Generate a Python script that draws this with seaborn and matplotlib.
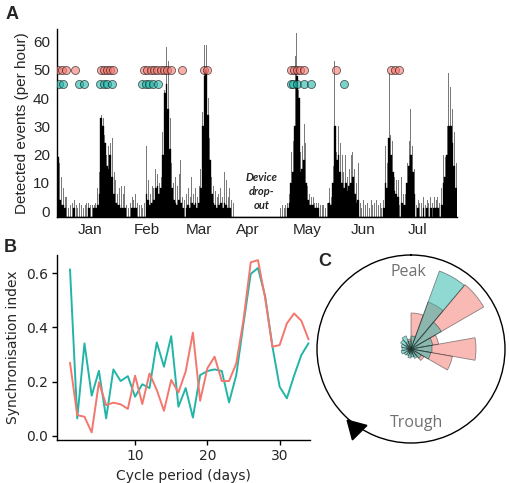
import numpy as np
import matplotlib
matplotlib.use("Agg")
import matplotlib.pyplot as plt
import seaborn as sns

# ---------------- Panel A data (daily envelope of hourly counts) ----------------
events_max = [19, 17, 12, 8, 5, 5, 1, 2, 3, 4,
              2, 1, 3, 2, 1, 2, 3, 3, 2, 2,
              2, 3, 8, 14, 34, 33, 27, 20, 23, 24,
              26, 14, 11, 6, 8, 9, 6, 9, 2, 1,
              3, 5, 4, 6, 3, 2, 2, 1, 3, 23,
              11, 6, 9, 8, 15, 13, 10, 12, 28, 43,
              58, 53, 33, 17, 10, 12, 9, 13, 18, 5,
              4, 6, 8, 5, 12, 6, 8, 5, 9, 15,
              35, 59, 59, 40, 26, 12, 9, 7, 5, 6,
              8, 5, 14, 11, 5, 8, 4, 3,
              0, 0, 0, 0, 0, 0, 0, 0, 0, 0, 0, 0, 0, 0, 0, 0, 0, 0, 0, 0, 0, 0, 0, 0, 0,
              1, 2, 1, 2, 3, 6, 21,
              25, 55, 63, 43, 21, 23, 31, 24, 9, 6,
              5, 5, 3, 3, 3, 2, 2, 2, 1, 3,
              8, 5, 16, 53, 21, 30, 24, 20, 14, 20,
              12, 15, 20, 21, 15, 10, 17, 3, 1, 4,
              2, 3, 1, 4, 2, 3, 4, 2, 3, 1,
              4, 23, 17, 49, 27, 25, 12, 11, 11, 2,
              12, 6, 6, 17, 25, 36, 23, 15, 2, 4,
              3, 3, 5, 2, 4, 3, 5, 3, 5, 4,
              5, 3, 8, 20, 19, 30, 49, 44, 36, 28, 17]
events_core = [19, 4, 2, 2, 1, 0, 0, 0, 0, 1,
               0, 0, 0, 0, 0, 0, 0, 1, 0, 0,
               1, 1, 2, 6, 33, 30, 24, 16, 15, 20,
               12, 6, 3, 2, 2, 1, 1, 1, 0, 0,
               0, 1, 1, 1, 0, 0, 0, 0, 0, 6,
               4, 2, 3, 4, 8, 9, 6, 8, 20, 42,
               45, 36, 22, 8, 4, 3, 2, 4, 3, 1,
               0, 1, 2, 1, 3, 2, 3, 1, 3, 8,
               30, 48, 50, 34, 18, 6, 3, 2, 1, 2,
               3, 1, 3, 2, 1, 1, 0, 0,
               0, 0, 0, 0, 0, 0, 0, 0, 0, 0, 0, 0, 0, 0, 0, 0, 0, 0, 0, 0, 0, 0, 0, 0, 0,
               0, 0, 0, 0, 1, 3, 10,
               14, 30, 48, 40, 14, 15, 18, 10, 4, 2,
               2, 2, 1, 1, 1, 0, 0, 0, 0, 0,
               3, 2, 10, 30, 18, 20, 14, 10, 8, 10,
               7, 9, 10, 12, 6, 3, 4, 0, 0, 0,
               0, 0, 0, 0, 0, 0, 0, 0, 0, 0,
               1, 10, 8, 26, 20, 14, 7, 6, 5, 0,
               3, 2, 2, 10, 16, 20, 14, 6, 0, 1,
               0, 0, 1, 0, 1, 0, 1, 0, 1, 1,
               1, 0, 2, 10, 12, 20, 30, 30, 24, 16, 8]
month_labels = ["Jan", "Feb", "Mar", "Apr", "May", "Jun", "Jul"]
month_days = [18, 49.5, 78.5, 105.5, 138.5, 169, 199]
red_event_days = [0.7, 2.8, 5.0, 9.9, 24.3, 26.1, 27.8, 29.3, 30.8,
                  48.2, 49.9, 51.8, 53.6, 55.4, 57.3, 59.1, 60.9, 62.8, 68.9,
                  81.2, 83.0, 129.1, 130.9, 132.8, 134.3, 136.6, 154.0,
                  184.4, 186.7, 189.1]
teal_event_days = [1.3, 3.1, 12.3, 14.9, 23.8, 26.0, 27.8, 30.2,
                   46.8, 48.9, 51.1, 53.2, 55.6,
                   129.1, 130.6, 132.4, 136.5, 140.2, 158.7]
red_level = 50
teal_level = 45

# ---------------- Panel B data ----------------
cycle_period = list(range(1, 35))
sync_teal = [0.615, 0.064, 0.341, 0.148, 0.240, 0.064, 0.245, 0.202, 0.220, 0.144,
             0.190, 0.176, 0.345, 0.255, 0.368, 0.107, 0.176, 0.067, 0.224, 0.239,
             0.245, 0.239, 0.123, 0.224, 0.415, 0.598, 0.620, 0.515, 0.330, 0.181,
             0.138, 0.222, 0.298, 0.342]
sync_red = [0.270, 0.076, 0.070, 0.012, 0.197, 0.113, 0.122, 0.116, 0.099, 0.222,
            0.117, 0.230, 0.169, 0.092, 0.206, 0.160, 0.237, 0.381, 0.129, 0.249,
            0.292, 0.202, 0.202, 0.267, 0.428, 0.641, 0.649, 0.508, 0.329, 0.335,
            0.415, 0.452, 0.425, 0.356]

# ---------------- Panel C data (phase rose, 20-degree bins) ----------------
phase_bins_deg = list(range(10, 360, 20))
rose_red = [36, 50, 84, 28, 65, 42, 15, 8, 5, 5, 4, 4, 3, 4, 5, 6, 8, 10]
rose_teal = [13, 83, 35, 22, 21, 20, 12, 10, 8, 9, 7, 8, 10, 9, 10, 12, 14, 8]

RED = "#F4776E"
TEAL = "#22B5A7"

sns.set_style("white")
plt.rcParams['font.family'] = ['DejaVu Sans']

fig = plt.figure(figsize=(5.1, 4.83), dpi=100)

# ---------------- Panel A ----------------
axA = fig.add_axes([57/510, 1-217/483, 400/510, 188/483])
ybot = -2.1
days = np.arange(len(events_max))
vmax = np.array(events_max, dtype=float)
vcore = np.array(events_core, dtype=float)
axA.bar(days + 0.5, np.where(vmax > 0, vmax - ybot, 0), bottom=ybot, width=0.55,
        color='#7a7a7a', linewidth=0)
axA.bar(days + 0.5, np.where(vcore > 0, vcore - ybot, 0), bottom=ybot, width=1.0,
        color='black', edgecolor='black', linewidth=0.25)
sns.scatterplot(x=red_event_days, y=[red_level]*len(red_event_days), ax=axA,
                s=34, color=RED, alpha=0.6, edgecolor='black', linewidth=0.6, zorder=5)
sns.scatterplot(x=teal_event_days, y=[teal_level]*len(teal_event_days), ax=axA,
                s=34, color=TEAL, alpha=0.6, edgecolor='black', linewidth=0.6, zorder=5)
axA.set_xlim(0, len(events_max))
axA.set_ylim(ybot, 64.5)
axA.set_yticks([0, 10, 20, 30, 40, 50, 60])
axA.set_xticks(month_days)
axA.set_xticklabels(month_labels)
for lab in axA.get_xticklabels() + axA.get_yticklabels():
    lab.set_family('Liberation Sans')
    lab.set_fontsize(11)
axA.tick_params(length=0, pad=5)
axA.tick_params(axis='x', pad=4)
axA.set_ylabel("Detected events (per hour)", family='Liberation Sans', fontsize=11, labelpad=3)
for s in ['top', 'right']:
    axA.spines[s].set_visible(False)
for s in ['left', 'bottom']:
    axA.spines[s].set_color('black')
    axA.spines[s].set_linewidth(1.0)
axA.text(113, 7.0, "Device\ndrop-\nout", ha='center', va='center', family='Lato',
         fontstyle='italic', fontweight='bold', fontsize=8, linespacing=1.35)

# ---------------- Panel B ----------------
axB = fig.add_axes([57/510, 1-440/483, 253/510, 185/483])
sns.lineplot(x=cycle_period, y=sync_teal, ax=axB, color=TEAL, linewidth=1.4)
sns.lineplot(x=cycle_period, y=sync_red, ax=axB, color=RED, linewidth=1.4)
axB.set_xlim(-0.8, 34.2)
axB.set_ylim(-0.016, 0.668)
axB.set_yticks([0.0, 0.2, 0.4, 0.6])
axB.set_yticklabels(["0.0", "0.2", "0.4", "0.6"])
axB.set_xticks([10, 20, 30])
axB.tick_params(labelsize=10, length=3.5, width=1, color='black', pad=3,
                left=True, bottom=True)
axB.set_xlabel("Cycle period (days)", fontsize=10)
axB.set_ylabel("Synchronisation index", fontsize=10)
for s in ['top', 'right']:
    axB.spines[s].set_visible(False)
for s in ['left', 'bottom']:
    axB.spines[s].set_color('black')
    axB.spines[s].set_linewidth(1.0)

# ---------------- Panel C ----------------
axC = fig.add_axes([317/510, 40/483, 188/510, 188/483], projection='polar')
axC.set_theta_zero_location('N')
axC.set_theta_direction(-1)
theta = np.deg2rad(phase_bins_deg)
w = np.deg2rad(20)
axC.bar(theta, rose_red, width=w, color=RED, alpha=0.5, edgecolor='#222222', linewidth=0.6)
axC.bar(theta, rose_teal, width=w, color=TEAL, alpha=0.5, edgecolor='#222222', linewidth=0.6)
axC.set_ylim(0, 94)
axC.set_xticks([])
axC.set_yticks([])
axC.grid(False)
axC.spines['polar'].set_color('black')
axC.spines['polar'].set_linewidth(1.0)
axC.plot([np.deg2rad(215)], [97], marker=(3, 0, 45), ms=17, color='black',
         clip_on=False, zorder=10)
axC.text(0.486, 0.911, "Peak", transform=axC.transAxes, ha='center', va='center',
         family='Open Sans', fontsize=11.5, color='#707070')
axC.text(0.527, 0.108, "Trough", transform=axC.transAxes, ha='center', va='center',
         family='Open Sans', fontsize=11.5, color='#707070')

# panel letters
fig.text(0.023, 0.969, "A", family='Liberation Sans', fontweight='bold', fontsize=13,
         ha='center', va='center')
fig.text(0.020, 0.487, "B", family='Liberation Sans', fontweight='bold', fontsize=13,
         ha='center', va='center')
fig.text(0.637, 0.458, "C", family='Liberation Sans', fontweight='bold', fontsize=13,
         ha='center', va='center')

fig.savefig("out.png", dpi=100)
